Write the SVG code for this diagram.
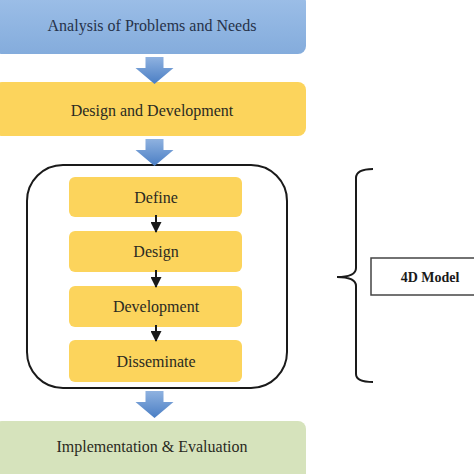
<svg xmlns="http://www.w3.org/2000/svg" width="474" height="474" viewBox="0 0 474 474">
<defs>
<linearGradient id="gBlue" x1="0" y1="0" x2="0" y2="1">
<stop offset="0" stop-color="#9dbfe8"/><stop offset="1" stop-color="#84acdc"/>
</linearGradient>
<linearGradient id="gArrow" x1="0" y1="0" x2="0" y2="1">
<stop offset="0" stop-color="#8fb2e0"/><stop offset="1" stop-color="#4a7ec4"/>
</linearGradient>
<marker id="ah" viewBox="0 0 10 10" refX="9" refY="5" markerWidth="12" markerHeight="11" markerUnits="userSpaceOnUse" orient="auto">
<path d="M0,0 L10,5 L0,10 z" fill="#1a1a1a"/>
</marker>
<path id="bigArrow" d="M-9,0 H9 V11 H19 L0,27 L-19,11 H-9 Z"/>
</defs>
<style>
.lbl{font-size:16px;fill:#2a2a22}
.yel{fill:#fcd45c}
.blk{stroke:#1a1a1a;fill:none}
</style>
<rect width="474" height="474" fill="#ffffff"/>
<g font-family="'Liberation Serif', 'Times New Roman', serif" text-anchor="middle">
<g id="analysis">
<rect x="-6" y="-6" width="312" height="60" rx="8" fill="url(#gBlue)"/>
<text x="152" y="31" font-family="Liberation Serif, serif" font-size="16" fill="#26324a">Analysis of Problems and Needs</text>
</g>
<g id="design-development">
<rect x="-6" y="82" width="312" height="54" rx="8" class="yel"/>
<text class="lbl" font-family="Liberation Serif, serif" x="152" y="116">Design and Development</text>
</g>
<g id="model-frame">
<rect x="27" y="165" width="260" height="223" rx="36" fill="#ffffff" stroke="#1a1a1a" stroke-width="2"/>
</g>
<g id="define">
<rect x="69" y="177" width="173" height="40" rx="6" class="yel"/>
<text class="lbl" font-family="Liberation Serif, serif" x="156" y="203">Define</text>
</g>
<g id="design">
<rect x="69" y="231" width="173" height="41" rx="6" class="yel"/>
<text class="lbl" font-family="Liberation Serif, serif" x="156" y="257">Design</text>
</g>
<g id="development">
<rect x="69" y="286" width="173" height="41" rx="6" class="yel"/>
<text class="lbl" font-family="Liberation Serif, serif" x="156" y="312">Development</text>
</g>
<g id="disseminate">
<rect x="69" y="340" width="173" height="42" rx="6" class="yel"/>
<text class="lbl" font-family="Liberation Serif, serif" x="156" y="367">Disseminate</text>
</g>
<g id="implementation">
<rect x="-6" y="421" width="312" height="60" rx="8" fill="#d6e3bc"/>
<text class="lbl" font-family="Liberation Serif, serif" x="152" y="452">Implementation &amp; Evaluation</text>
</g>
<g id="fourd-model">
<rect x="371" y="258" width="110" height="37" fill="#ffffff" stroke="#444" stroke-width="1.5"/>
<text x="430" y="282" font-family="Liberation Serif, serif" font-size="14" font-weight="bold" fill="#1a1a1a">4D Model</text>
</g>
<g id="brace">
<path class="blk" stroke-width="2" d="M373,169 Q356,169 356,178 V268 Q356,277 337,277 Q356,277 356,286 V374 Q356,382 373,382"/>
</g>
<g id="connectors">
<use href="#bigArrow" x="154.5" y="57" fill="url(#gArrow)"/>
<use href="#bigArrow" x="154.5" y="139" fill="url(#gArrow)"/>
<use href="#bigArrow" x="154.5" y="391" fill="url(#gArrow)"/>
<line class="blk" stroke-width="2" x1="156" y1="215" x2="156" y2="232" marker-end="url(#ah)"/>
<line class="blk" stroke-width="2" x1="156" y1="270" x2="156" y2="287" marker-end="url(#ah)"/>
<line class="blk" stroke-width="2" x1="156" y1="325" x2="156" y2="341" marker-end="url(#ah)"/>
</g>
</g>
</svg>
